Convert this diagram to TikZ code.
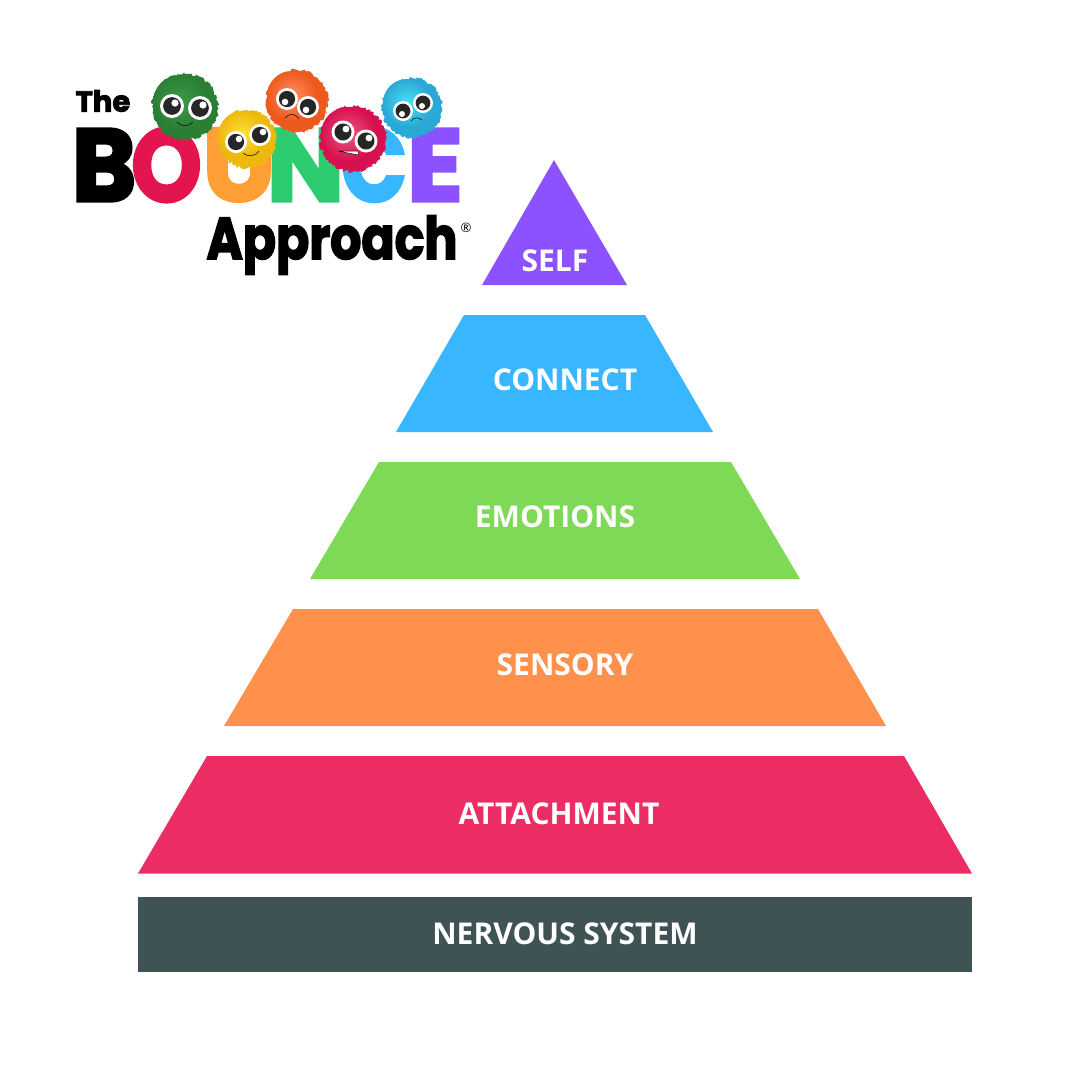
\documentclass[tikz,border=0pt]{standalone}
\usepackage{fontspec}
\setmainfont{Open Sans}
\newfontfamily\logofont[UprightFeatures={FakeBold=3},BoldFeatures={FakeBold=3}]{Poppins}
\usetikzlibrary{decorations.pathmorphing}
\definecolor{selfpurple}{HTML}{8C52FF}
\definecolor{connectblue}{HTML}{38B6FF}
\definecolor{emotionsgreen}{HTML}{7ED957}
\definecolor{sensoryorange}{HTML}{FF914D}
\definecolor{attachred}{HTML}{EC2D64}
\definecolor{nerveslate}{HTML}{3F5254}
\definecolor{letterred}{HTML}{E3154F}
\definecolor{letterorange}{HTML}{FF9F35}
\definecolor{lettergreen}{HTML}{2ECC71}
\definecolor{ballgreen}{HTML}{2A7F35}
\definecolor{ballgreenlight}{HTML}{3E9A45}
\definecolor{ballyellow}{HTML}{EDB90E}
\definecolor{ballyellowlight}{HTML}{FFE23A}
\definecolor{ballorange}{HTML}{EE5A1E}
\definecolor{ballorangelight}{HTML}{FF8F62}
\definecolor{ballred}{HTML}{D5124F}
\definecolor{ballredlight}{HTML}{F0557F}
\definecolor{ballcyan}{HTML}{2BA9D6}
\definecolor{ballcyanlight}{HTML}{45E4F5}
\tikzset{
  level/.style={white, font=\bfseries\fontsize{30}{32}\selectfont, inner sep=0pt},
  logoletter/.style={font=\logofont\bfseries\fontsize{103}{103}\selectfont, inner sep=0pt},
  logoword/.style={black, font=\logofont\bfseries\fontsize{#1}{#1}\selectfont, inner sep=0pt},
  fuzz/.style={decorate, decoration={random steps, segment length=1.8pt, amplitude=1.5pt}},
  mouth/.style={black, line width=0.5pt},
}
\begin{document}
\begin{tikzpicture}[x=1pt, y=-1pt]
\useasboundingbox (0, 0) rectangle (1080, 1080);
\coordinate (S1) at (554, 160);
\coordinate (S2) at (627, 285);
\coordinate (S3) at (482, 285);
\coordinate (C1) at (464, 315);
\coordinate (C2) at (645, 315);
\coordinate (C3) at (713, 432);
\coordinate (C4) at (396, 432);
\coordinate (E1) at (379, 462);
\coordinate (E2) at (731, 462);
\coordinate (E3) at (800, 579);
\coordinate (E4) at (310, 579);
\coordinate (R1) at (293, 609);
\coordinate (R2) at (818, 609);
\coordinate (R3) at (886, 726);
\coordinate (R4) at (224, 726);
\coordinate (A1) at (207, 756);
\coordinate (A2) at (904, 756);
\coordinate (A3) at (972, 873.5);
\coordinate (A4) at (138, 873.5);
\coordinate (N1) at (138, 897);
\coordinate (N2) at (972, 897);
\coordinate (N3) at (972, 972);
\coordinate (N4) at (138, 972);

\fill[selfpurple] (S1) -- (S2) -- (S3) -- cycle;
\fill[connectblue] (C1) -- (C2) -- (C3) -- (C4) -- cycle;
\fill[emotionsgreen] (E1) -- (E2) -- (E3) -- (E4) -- cycle;
\fill[sensoryorange] (R1) -- (R2) -- (R3) -- (R4) -- cycle;
\fill[attachred] (A1) -- (A2) -- (A3) -- (A4) -- cycle;
\fill[nerveslate] (N1) -- (N2) -- (N3) -- (N4) -- cycle;

\node[level] (self) at (555, 261) {SELF};
\node[level] (connect) at (565, 380) {CONNECT};
\node[level] (emotions) at (555, 517) {EMOTIONS};
\node[level] (sensory) at (565, 665) {SENSORY};
\node[level] (attachment) at (559, 814) {ATTACHMENT};
\node[level] (nervous) at (565, 934) {NERVOUS SYSTEM};

% logo letters
\node[logoword=29] (the) at (103, 101) {The};
\node[logoletter, black] (b) at (104, 165) {\scalebox{0.95}[1]{B}};
\node[logoletter, letterred] (o) at (166.5, 165) {\scalebox{0.87}[1]{O}};
\node[logoletter, letterorange] (u) at (239, 165) {U};
\node[logoletter, lettergreen] (n) at (305.5, 165) {N};
\node[logoletter, connectblue] (c) at (374, 165) {\scalebox{0.84}[1]{C}};
\node[logoletter, selfpurple] (e) at (435, 165) {E};
\node[logoword=49] (approach) at (332, 245) {\scalebox{1}[1.2]{Approach}};
\node[black, inner sep=0pt, font=\fontsize{13}{13}\selectfont] (reg) at (466, 228) {\textregistered};

% fuzzy balls
\pgfmathsetseed{7}
\foreach \x/\y/\r/\dark/\light in {185/107/33/ballgreen/ballgreenlight,
    247/139/29/ballyellow/ballyellowlight,
    297/101/31/ballorange/ballorangelight,
    353/139/33/ballred/ballredlight,
    412/108/30/ballcyan/ballcyanlight} {
  \fill[\dark, fuzz] (\x, \y) circle [radius=\r];
  \shade[inner color=\light, outer color=\dark] (\x-5, \y-5) circle [radius=\r-6];
}

% eyes
\foreach \x/\y/\r/\hx/\hy in {172/106/12/3/-3, 200/108/12/3/-3,
    236/142/11/3/-3, 260/135/11/3/-3,
    287/99/11/-2/3, 308/107/11/-2/3,
    343/132/11.5/3/-3, 366/141/11.5/3/-3,
    403/111/10/-1/3, 423/103/10/-1/3} {
  \fill[white] (\x, \y) circle [radius=\r];
  \fill[black!85] (\x, \y) circle [radius=\r*0.74];
  \fill[white] (\x+\hx, \y+\hy) circle [radius=\r*0.3];
}

% mouths
\draw[mouth] (177, 122) .. controls (181, 127) and (189, 127) .. (193, 122);
\draw[mouth] (243, 153) .. controls (247, 157) and (255, 157) .. (259, 151);
\draw[mouth] (285, 118) .. controls (289, 113) and (295, 113) .. (299, 119);
\filldraw[mouth, fill=white] (338, 151) -- (358, 151) -- (358, 155) -- cycle;
\draw[mouth] (411, 121) .. controls (414, 117) and (419, 117) .. (422, 120);
\end{tikzpicture}
\end{document}
